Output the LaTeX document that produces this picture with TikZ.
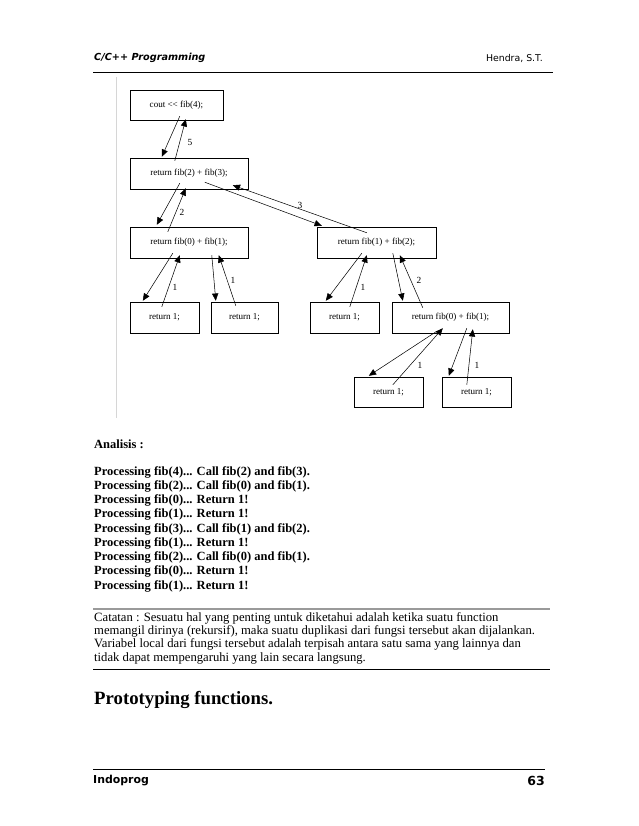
\documentclass[tikz,border=0pt]{standalone}
\usepackage{fontspec}
\setmainfont{Liberation Serif}
\newfontfamily\hdrfont{DejaVu Sans}
\usetikzlibrary{arrows.meta}
\definecolor{RuleGray}{HTML}{9A9A9A}
\definecolor{FrameGray}{HTML}{D6D6D6}

\begin{document}
\begin{tikzpicture}[x=0.96pt,y=-0.96pt,
	box/.style={draw, inner sep=0pt, minimum height=29.8pt, font=\fontsize{8.7}{10}\selectfont},
	call/.style={-{Triangle[length=7pt,width=6pt]}, line width=0.5pt},
	num/.style={font=\fontsize{9}{10}\selectfont, inner sep=0pt},
	body/.style={anchor=base west, inner sep=0pt, font=\fontsize{12.15}{14}\selectfont}]
	\useasboundingbox (0,0) rectangle (638,826);

	% header and footer
	\node[anchor=west, inner sep=0pt, font=\hdrfont\fontsize{9.3}{11}\selectfont\bfseries\itshape] (title) at (94,58) {C/C++ Programming};
	\node[anchor=east, inner sep=0pt, font=\hdrfont\fontsize{9}{11}\selectfont] (author) at (543,58) {Hendra, S.T.};
	\draw[line width=0.7pt] (93,72) -- (553,72);
	\draw[line width=0.7pt] (93,769) -- (545,769);
	\node[anchor=west, inner sep=0pt, font=\hdrfont\fontsize{10.5}{12}\selectfont\bfseries] (site) at (93,781) {Indoprog};
	\node[anchor=east, inner sep=0pt, font=\hdrfont\fontsize{12}{14}\selectfont\bfseries] (page) at (545,781) {63};

	% call tree
	\draw[FrameGray, line width=0.8pt] (116.5,77) -- (116.5,418);

	\node[box, minimum width=89.3pt, minimum height=28.8pt] (main) at (176.5,105) {cout <\kern0pt< fib(4);};
	\node[box, minimum width=113.3pt] (f4) at (189,173.5) {return fib(2) + fib(3);};
	\node[box, minimum width=113.3pt] (f2) at (189,242.5) {return fib(0) + fib(1);};
	\node[box, minimum width=114.2pt] (f3) at (376.5,242.5) {return fib(1) + fib(2);};
	\node[box, minimum width=66.2pt] (f0) at (164.5,317.5) {return 1;};
	\node[box, minimum width=64.3pt] (f1) at (244.5,317.5) {return 1;};
	\node[box, minimum width=66.2pt] (f1r) at (344.5,317.5) {return 1;};
	\node[box, minimum width=112.3pt] (f2r) at (450.5,317.5) {return fib(0) + fib(1);};
	\node[box, minimum width=66.2pt, minimum height=28.8pt] (f0r) at (388.5,392) {return 1;};
	\node[box, minimum width=66.2pt, minimum height=28.8pt] (f1rr) at (476.5,392) {return 1;};

	\draw[call] ([shift={(50,-4)}]main.south west) -- ([shift={(32,-1)}]f4.north west);
	\draw[call] ([shift={(45,3)}]f4.north west) -- ([shift={(56,-1)}]main.south west);
	\node[num] (n5) at (190,142) {5};

	\draw[call] ([shift={(50,-6)}]f4.south west) -- ([shift={(27,-2)}]f2.north west);
	\draw[call] ([shift={(38,5)}]f2.north west) -- ([shift={(56,-1)}]f4.south west);
	\node[num] (n2) at (182,212) {2};

	\draw[call] ([shift={(75,-7)}]f4.south west) -- ([shift={(5,-1)}]f3.north west);
	\draw[call] ([shift={(50,6)}]f3.north west) -- ([shift={(103,-4)}]f4.south west);
	\node[num] (n3) at (300,205) {3};

	\draw[call] ([shift={(43,-5)}]f2.south west) -- ([shift={(13,-1)}]f0.north west);
	\draw[call] ([shift={(32,5)}]f0.north west) -- ([shift={(50,-3)}]f2.south west);
	\node[num] (n1a) at (175,287) {1};

	\draw[call] ([shift={(82,-3)}]f2.south west) -- ([shift={(5,-1)}]f1.north west);
	\draw[call] ([shift={(25,4)}]f1.north west) -- ([shift={(89,-3)}]f2.south west);
	\node[num] (n1b) at (233,280) {1};

	\draw[call] ([shift={(45,-5)}]f3.south west) -- ([shift={(16,-1)}]f1r.north west);
	\draw[call] ([shift={(40,5)}]f1r.north west) -- ([shift={(50,-3)}]f3.south west);
	\node[num] (n1c) at (363,287) {1};

	\draw[call] ([shift={(76,-5)}]f3.south west) -- ([shift={(11,-1)}]f2r.north west);
	\draw[call] ([shift={(31,6)}]f2r.north west) -- ([shift={(83,-3)}]f3.south west);
	\node[num] (n2b) at (419,280) {2};

	\draw[call] ([shift={(45,-2)}]f2r.south west) -- ([shift={(15,-1)}]f0r.north west);
	\draw[call] ([shift={(39,8)}]f0r.north west) -- ([shift={(51,-5)}]f2r.south west);
	\node[num] (n1d) at (420,365) {1};

	\draw[call] ([shift={(75,-5)}]f2r.south west) -- ([shift={(7,-1)}]f1rr.north west);
	\draw[call] ([shift={(25,8)}]f1rr.north west) -- ([shift={(81,-4)}]f2r.south west);
	\node[num] (n1e) at (477,365) {1};

	% analysis
	\node[body, font=\fontsize{12}{14}\selectfont\bfseries] (ana) at (94,448) {Analisis :};
	\node[body, font=\fontsize{12}{14}\selectfont\bfseries] (p0) at (94,475) {Processing fib(4)... Call fib(2) and fib(3).};
	\node[body, font=\fontsize{12}{14}\selectfont\bfseries] (p1) at (94,489.25) {Processing fib(2)... Call fib(0) and fib(1).};
	\node[body, font=\fontsize{12}{14}\selectfont\bfseries] (p2) at (94,503.5) {Processing fib(0)... Return 1!};
	\node[body, font=\fontsize{12}{14}\selectfont\bfseries] (p3) at (94,517.75) {Processing fib(1)... Return 1!};
	\node[body, font=\fontsize{12}{14}\selectfont\bfseries] (p4) at (94,532) {Processing fib(3)... Call fib(1) and fib(2).};
	\node[body, font=\fontsize{12}{14}\selectfont\bfseries] (p5) at (94,546.25) {Processing fib(1)... Return 1!};
	\node[body, font=\fontsize{12}{14}\selectfont\bfseries] (p6) at (94,560.5) {Processing fib(2)... Call fib(0) and fib(1).};
	\node[body, font=\fontsize{12}{14}\selectfont\bfseries] (p7) at (94,574.75) {Processing fib(0)... Return 1!};
	\node[body, font=\fontsize{12}{14}\selectfont\bfseries] (p8) at (94,589) {Processing fib(1)... Return 1!};

	% note
	\draw[RuleGray, line width=1.2pt] (93,609) -- (550,609);
	\node[body] (c0) at (94,621.2) {Catatan : Sesuatu hal yang penting untuk diketahui adalah ketika suatu function};
	\node[body] (c1) at (94,634.5) {memangil dirinya (rekursif), maka suatu duplikasi dari fungsi tersebut akan dijalankan.};
	\node[body] (c2) at (94,647.8) {Variabel local dari fungsi tersebut adalah terpisah antara satu sama yang lainnya dan};
	\node[body] (c3) at (94,661.1) {tidak dapat mempengaruhi yang lain secara langsung.};
	\draw[line width=0.7pt] (93,669) -- (550,669);

	\node[body, font=\fontsize{18}{21}\selectfont\bfseries] (proto) at (94,704) {Prototyping functions.};
\end{tikzpicture}
\end{document}
